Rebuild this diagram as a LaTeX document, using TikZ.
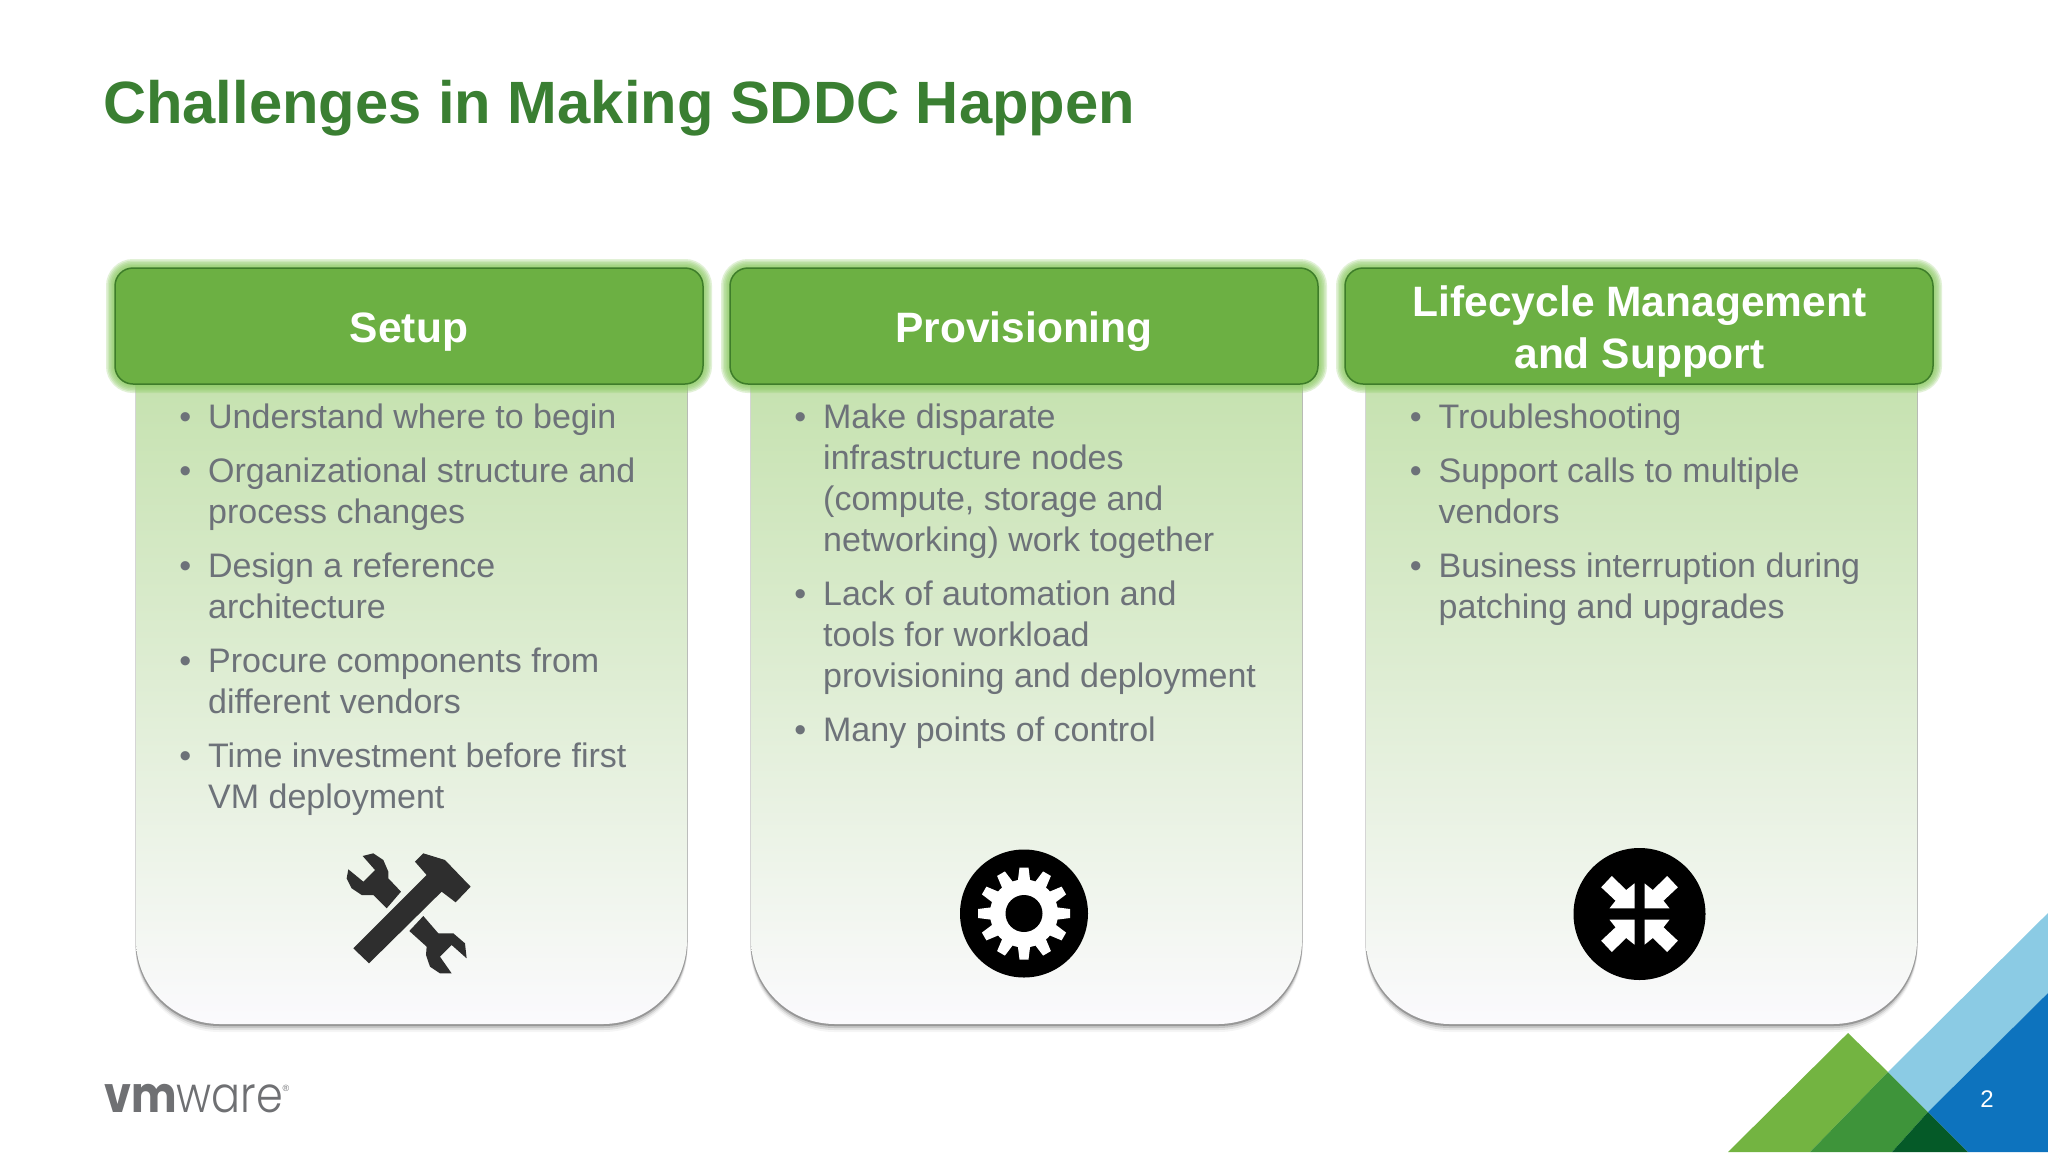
\documentclass[tikz,border=0pt]{standalone}
\usepackage{fontspec}
\setmainfont{Liberation Sans}
\newfontfamily\logofont{Poppins}
\newfontfamily\logolight{Poppins Light}
\definecolor{titlegreen}{HTML}{3A7F32}
\definecolor{headgreen}{HTML}{6CB043}
\definecolor{headedge}{HTML}{3E7D2A}
\definecolor{glowgreen}{HTML}{8CCB63}
\definecolor{bodygray}{HTML}{6D7279}
\definecolor{cardtop}{HTML}{C6E2B0}
\definecolor{cardbot}{HTML}{FBFAFD}
\definecolor{logogray}{HTML}{6F7073}
\definecolor{iconblack}{HTML}{2E2E2E}
\definecolor{triA}{HTML}{73B441}
\definecolor{triB}{HTML}{3E943A}
\definecolor{triC}{HTML}{055A28}
\definecolor{triD}{HTML}{8BCBE4}
\definecolor{triE}{HTML}{0D73BE}
\tikzset{
  headbox/.style={draw=headedge,line width=1.5pt,fill=headgreen,rounded corners=18pt,minimum width=#1,minimum height=116pt,inner sep=0pt},
  headtext/.style={inner sep=0pt,align=center,text=white,font=\fontsize{42.5pt}{52pt}\selectfont\bfseries},
  bullettext/.style={anchor=north west,inner sep=0pt,align=left,text=bodygray,font=\fontsize{34pt}{41pt}\selectfont},
}
\newcommand{\itm}{\rule{0pt}{32pt}\llap{\textbullet\hspace{17pt}}}
\newcommand{\glowbox}[4]{%
  \foreach \w in {18,15,12,9,6,3}{\draw[glowgreen,opacity=.26,line width=\w pt,rounded corners=18pt] (#1,#2) rectangle (#3,#4);}}
\newcommand{\cardshape}[2]{%
  \foreach \d/\o in {8/.04,6/.07,4/.12,2/.24}{\fill[black,opacity=\o] (#1-.5,384) [rounded corners=84pt] -- (#1-.5,1024+\d) -- (#2+.5,1024+\d) [sharp corners] -- (#2+.5,384) -- cycle;}
  \shade[top color=cardtop,bottom color=cardbot] (#1,384) [rounded corners=84pt] -- (#1,1024) -- (#2,1024) [sharp corners] -- (#2,384) -- cycle;}
\begin{document}
\begin{tikzpicture}[x=1pt,y=-1pt]
\useasboundingbox (0,0) rectangle (2048,1152);
\fill[white] (0,0) rectangle (2048,1152);
% corner triangles
\fill[triA] (1728,1152) -- (1848,1033) -- (1888,1072) -- (1810,1152) -- cycle;
\fill[triB] (1810,1152) -- (1888,1072) -- (1928,1112) -- (1892,1152) -- cycle;
\fill[triC] (1892,1152) -- (1928,1112) -- (1968,1152) -- cycle;
\fill[triD] (1888,1072) -- (2048,913) -- (2048,993) -- (1928,1112) -- cycle;
\fill[triE] (1928,1112) -- (2048,993) -- (2048,1152) -- (1968,1152) -- cycle;
\node[text=white,font=\fontsize{24pt}{24pt}\selectfont] (pagenum) at (1987,1099) {2};
% title
\node[anchor=base west,inner sep=0pt,text=titlegreen,font=\fontsize{59.7pt}{60pt}\selectfont\bfseries] (title) at (103,123) {Challenges in Making SDDC Happen};
% cards
\cardshape{136}{687}
\cardshape{751}{1302}
\cardshape{1366}{1917}
% headers
\glowbox{115}{268}{703}{384}
\glowbox{730}{268}{1318}{384}
\glowbox{1345}{268}{1933}{384}
\node[headbox=588pt] (h1) at (409,326) {};
\node[headbox=588pt] (h2) at (1024,326) {};
\node[headbox=588pt] (h3) at (1639,326) {};
\node[headtext] (h1t) at (409,332) {Setup};
\node[headtext] (h2t) at (1024,332) {Provisioning};
\node[headtext] (h3t) at (1639.5,332) {Lifecycle Management\\and Support};
% card 1
\node[bullettext] (a1) at (208,396) {\itm Understand where to begin};
\node[bullettext] (a2) at (208,450) {\itm Organizational structure and\\process changes};
\node[bullettext] (a3) at (208,545) {\itm Design a reference\\architecture};
\node[bullettext] (a4) at (208,640) {\itm Procure components from\\different vendors};
\node[bullettext] (a5) at (208,735) {\itm Time investment before first\\VM deployment};
% card 2
\node[bullettext] (b1) at (823,396) {\itm Make disparate\\infrastructure nodes\\(compute, storage and\\networking) work together};
\node[bullettext] (b2) at (823,573) {\itm Lack of automation and\\tools for workload\\provisioning and deployment};
\node[bullettext] (b3) at (823,709) {\itm Many points of control};
% card 3
\node[bullettext] (c1) at (1438.5,396) {\itm Troubleshooting};
\node[bullettext] (c2) at (1438.5,450) {\itm Support calls to multiple\\vendors};
\node[bullettext] (c3) at (1438.5,545) {\itm Business interruption during\\patching and upgrades};
% tools icon
\begin{scope}[shift={(320,830)},x=0.3333pt,y=-0.3333pt]
\fill[iconblack] (100,355) -- (320,135) -- (285,95) -- (310,70) -- (375,90) -- (452,170) -- (407,217) -- (365,185) -- (147,400) -- cycle;
\fill[iconblack] (85,118) -- (130,155) -- (165,120) -- (128,78) -- (160,70) -- (190,90) -- (205,125) -- (205,145) -- (243,185) -- (200,235) -- (160,195) -- (125,195) -- (95,175) -- (80,145) -- cycle;
\fill[iconblack] (310,258) -- (355,310) -- (400,310) -- (435,340) -- (440,385) -- (395,345) -- (360,380) -- (395,430) -- (360,430) -- (330,410) -- (318,375) -- (320,350) -- (268,303) -- cycle;
\end{scope}
% gear icon
\begin{scope}[shift={(1024,913.5)}]
\fill[black] (0,0) circle (64pt);
\fill[white] (0,0) circle (34pt);
\foreach \a in {0,30,...,330}{\fill[white,rotate=\a] (30,-6.5) -- (46,-4.5) -- (46,4.5) -- (30,6.5) -- cycle;}
\fill[black] (0,0) circle (18.5pt);
\end{scope}
% arrows icon
\begin{scope}[shift={(1639.5,914)}]
\fill[black] (0,0) circle (66pt);
\foreach \sx/\sy in {1/1,-1/1,1/-1,-1/-1}{
\fill[white,xscale=\sx,yscale=\sy] (-5,-5.7) -- (-30,-5.7) -- (-24,-13.3) -- (-38.3,-26.7) -- (-27.7,-38) -- (-13.3,-24) -- (-5,-30.7) -- cycle;}
\end{scope}
% logo
\node[anchor=base west,inner sep=0pt,text=logogray,font=\fontsize{50pt}{50pt}\selectfont\logofont] (logo) at (104,1112) {\scalebox{.86}[1]{\textbf{vm}{\logolight ware}}};
\node[inner sep=0pt,text=logogray,font=\fontsize{9pt}{9pt}\selectfont] (reg) at (286,1088) {®};
\end{tikzpicture}
\end{document}
